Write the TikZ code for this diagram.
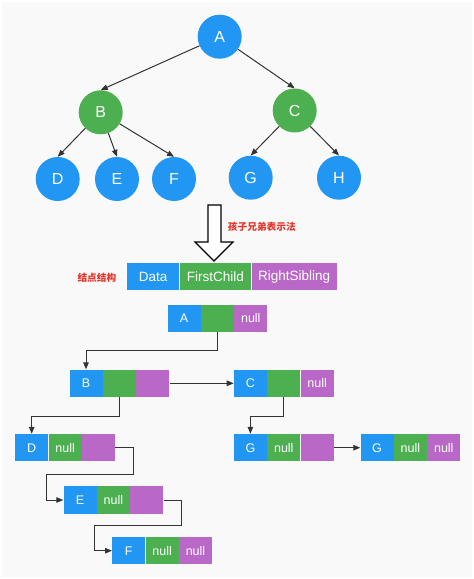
\documentclass[tikz,border=0pt]{standalone}
\usepackage{fontspec}
\setmainfont{Liberation Sans}
\newfontfamily\cjk{Noto Sans CJK SC}
\usetikzlibrary{arrows.meta}
\definecolor{mblue}{HTML}{2196F3}
\definecolor{mgreen}{HTML}{4CAF50}
\definecolor{mpurple}{HTML}{BA68C8}
\definecolor{mred}{HTML}{E8352A}
\definecolor{lnk}{HTML}{333333}
\definecolor{bgc}{HTML}{F9F9F9}
\begin{document}
\begin{tikzpicture}[x=1pt,y=-1pt,
  circ/.style={circle,minimum size=44pt,inner sep=0pt,text=white,font=\fontsize{16}{16}\selectfont},
  cb/.style={circ,fill=mblue},
  cg/.style={circ,fill=mgreen},
  arr/.style={draw=lnk,line width=1pt,-{Triangle[length=7pt,width=5.5pt]}},
  cell/.style={rectangle,minimum width=33pt,minimum height=27.5pt,inner sep=0pt,anchor=west,text=white,font=\fontsize{12.5}{12.5}\selectfont},
  cblue/.style={cell,fill=mblue},
  cgreen/.style={cell,fill=mgreen},
  cpurple/.style={cell,fill=mpurple},
  hcell/.style={rectangle,minimum height=27pt,inner sep=0pt,anchor=west,text=white,font=\fontsize{13.5}{13.5}\selectfont},
  redlbl/.style={text=mred,font=\cjk\bfseries\fontsize{9.7}{9.7}\selectfont,inner sep=0pt,anchor=west}
]
\useasboundingbox (0,0) rectangle (474,579);
\fill[white] (0,0) rectangle (474,579);
\fill[bgc] (1.5,2) rectangle (472,577);

% tree
\node[cb] (A) at (219.7,36.7) {A};
\node[cg] (B) at (100.7,112.3) {B};
\node[cg] (C) at (294.7,110.5) {C};
\node[cb] (D) at (57.7,179) {D};
\node[cb] (E) at (117,179) {E};
\node[cb] (F) at (174,179) {F};
\node[cb] (G) at (250.7,177.7) {G};
\node[cb] (H) at (339,177.7) {H};
\draw[arr] (A) -- (B.north);
\draw[arr] (A) -- (C.north);
\draw[arr] (B) -- (D.north);
\draw[arr] (B) -- (E.north);
\draw[arr] (B) -- (F.north);
\draw[arr] (C) -- (G.north);
\draw[arr] (C) -- (H.north);

% hollow arrow
\draw[black,line width=1.2pt,fill=white,line join=miter]
  (208,205) -- (221,205) -- (221,242) -- (233,242) -- (214,261) -- (195,242) -- (208,242) -- cycle;
\node[redlbl] (lbl1) at (227.7,227) {孩子兄弟表示法};

% header
\node[redlbl] (lbl2) at (77.3,278) {结点结构};
\node[hcell,fill=mblue,minimum width=52.3pt] (hD) at (126.7,276.7) {Data};
\node[hcell,fill=mgreen,minimum width=71.7pt] (hF) at (hD.east) {FirstChild};
\node[hcell,fill=mpurple,minimum width=85pt] (hR) at (hF.east) {RightSibling};

% rows
\node[cblue] (A1) at (167.3,318.3) {A};
\node[cgreen] (A2) at (A1.east) {};
\node[cpurple] (A3) at (A2.east) {null};

\node[cblue] (B1) at (69.3,383.3) {B};
\node[cgreen] (B2) at (B1.east) {};
\node[cpurple] (B3) at (B2.east) {};

\node[cblue] (C1) at (233.7,383.3) {C};
\node[cgreen] (C2) at (C1.east) {};
\node[cpurple] (C3) at (C2.east) {null};

\node[cblue] (D1) at (15,447.7) {D};
\node[cgreen] (D2) at (D1.east) {null};
\node[cpurple] (D3) at (D2.east) {};

\node[cblue] (G1) at (233.7,447.7) {G};
\node[cgreen] (G2) at (G1.east) {null};
\node[cpurple] (G3) at (G2.east) {};

\node[cblue] (K1) at (360.3,447.7) {G};
\node[cgreen] (K2) at (K1.east) {null};
\node[cpurple] (K3) at (K2.east) {null};

\node[cblue] (E1) at (63.3,500) {E};
\node[cgreen] (E2) at (E1.east) {null};
\node[cpurple] (E3) at (E2.east) {};

\node[cblue] (F1) at (112,550.7) {F};
\node[cgreen] (F2) at (F1.east) {null};
\node[cpurple] (F3) at (F2.east) {null};

% connectors
\draw[arr] (A2.south) -- ++(0,18.5) -| (B1.north);
\draw[arr] (B3.east) -- (C1.west);
\draw[arr] (B2.south) -- ++(0,19) -| (D1.north);
\draw[arr] (C2.south) -- ++(0,19) -| (G1.north);
\draw[arr] (G3.east) -- (K1.west);
\draw[arr] (D3.east) -- ++(18.4,0) -- ++(0,26.3) -- ++(-87.4,0) |- (E1.west);
\draw[arr] (E3.east) -- ++(18.3,0) -- ++(0,25.7) -- ++(-87,0) |- (F1.west);
\end{tikzpicture}
\end{document}
